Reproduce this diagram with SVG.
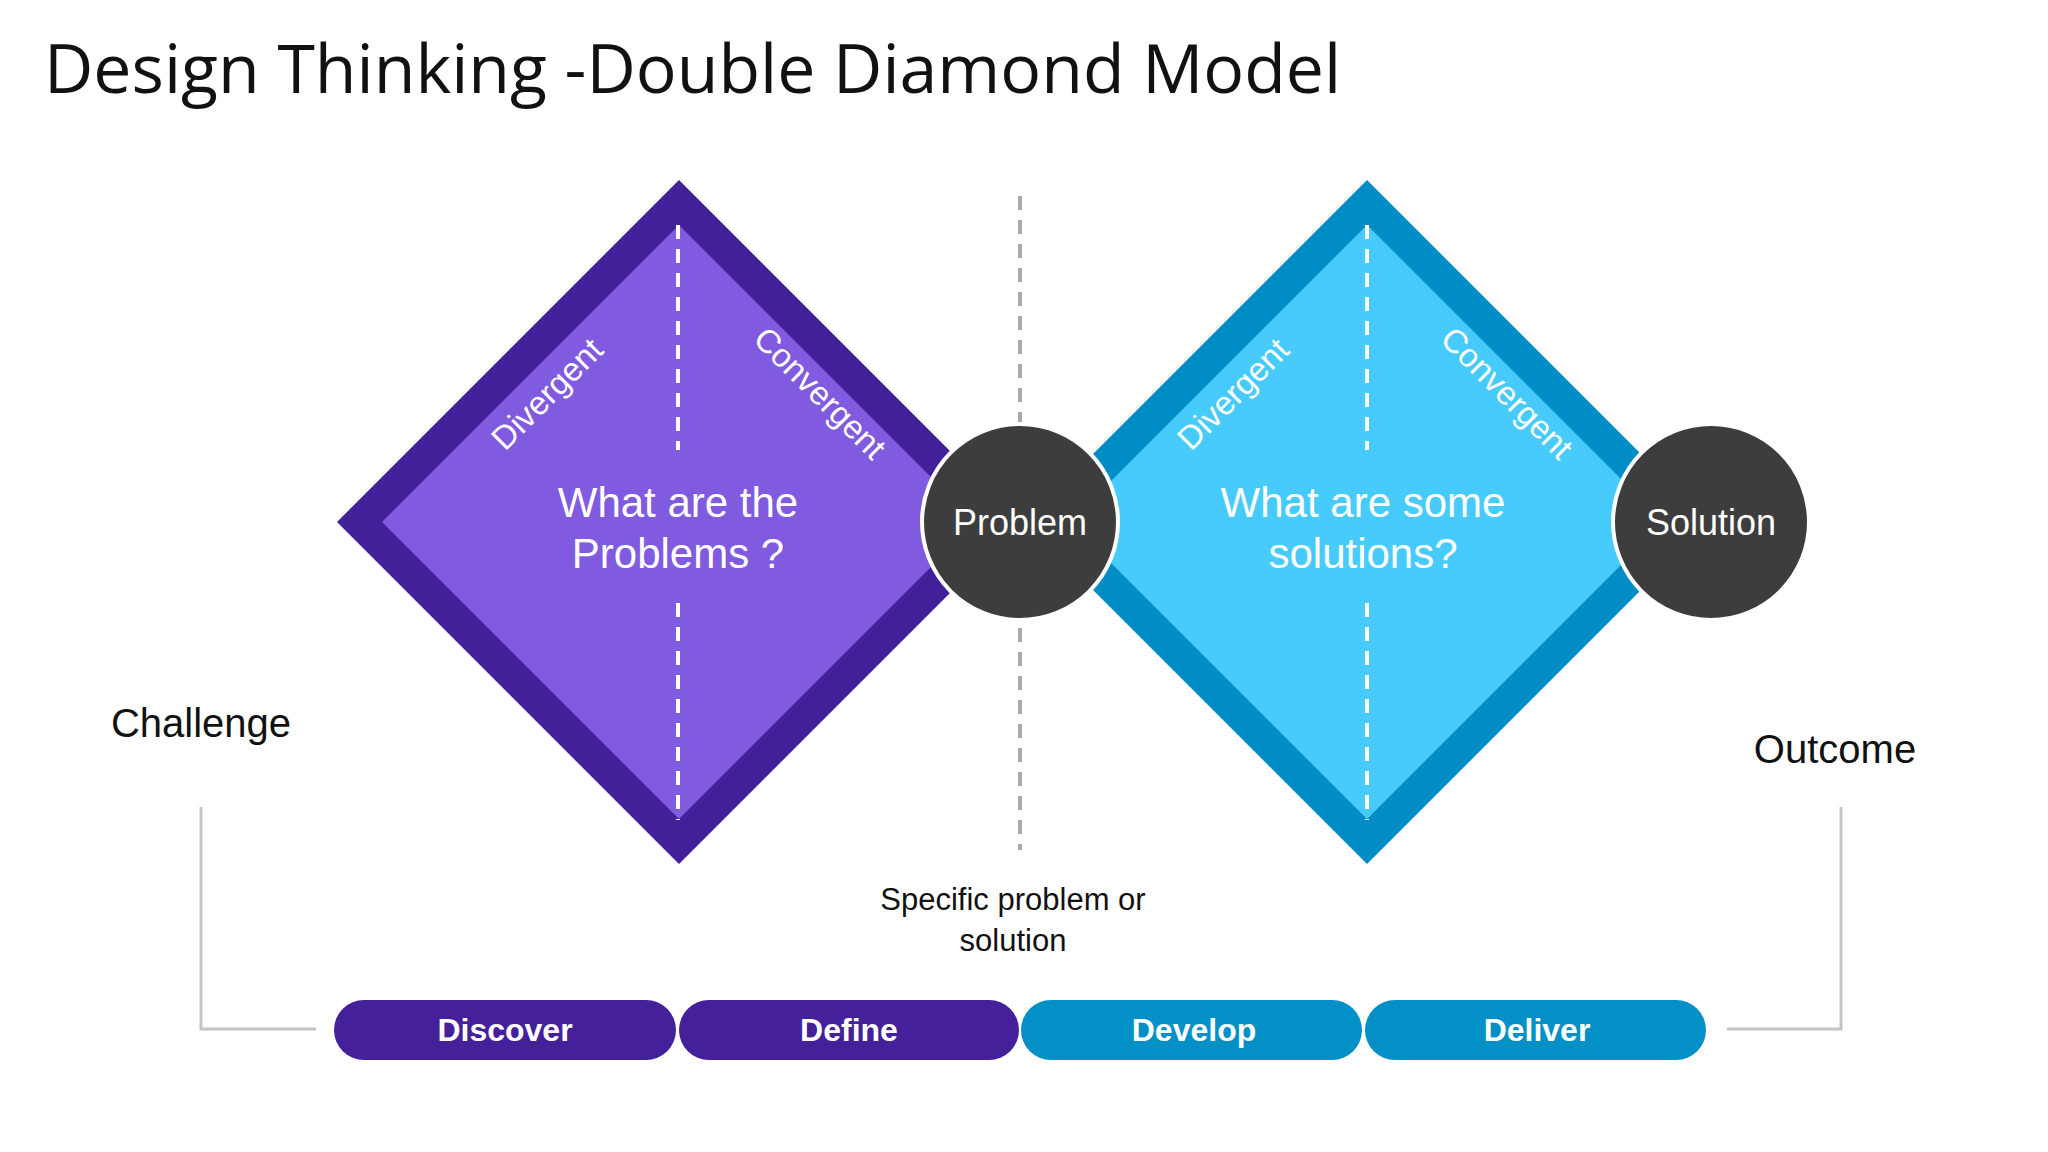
<svg xmlns="http://www.w3.org/2000/svg" width="2048" height="1152" viewBox="0 0 2048 1152">
<style>
.t{font-family:"Liberation Sans",Arial,sans-serif}
.w{fill:#fff}
.wd{stroke:#fff;stroke-width:4;stroke-dasharray:14 10;fill:none}
.rot{font-size:33px;fill:#fff}
.q{font-size:42px;fill:#fff;text-anchor:middle}
.pill{font-size:32px;font-weight:bold;fill:#fff;text-anchor:middle}
.circ{fill:#3d3d3d;stroke:#fff;stroke-width:4}
.br{stroke:#c4c4c4;stroke-width:3;fill:none}
</style>
<rect width="2048" height="1152" fill="#fff"/>
<text x="44" y="93" font-family="'Open Sans',sans-serif" font-size="68" fill="#111">Design Thinking -Double Diamond Model</text>
<line x1="1020" y1="196" x2="1020" y2="850" stroke="#aaa" stroke-width="4" stroke-dasharray="14 10"/>
<g id="diamond1">
<polygon points="679,180 1021,522 679,864 337,522" fill="#42209a"/>
<polygon points="679,225 976,522 679,819 382,522" fill="#805be0"/>
<line class="wd" x1="678" y1="225" x2="678" y2="450"/>
<line class="wd" x1="678" y1="603" x2="678" y2="820"/>
<text class="t rot" transform="translate(555,402) rotate(-45)" text-anchor="middle">Divergent</text>
<text class="t rot" transform="translate(812,401) rotate(45)" text-anchor="middle">Convergent</text>
<text class="t q" x="678" y="517">What are the</text>
<text class="t q" x="678" y="568">Problems ?</text>
</g>
<g id="diamond2">
<polygon points="1367,180 1709,522 1367,864 1025,522" fill="#008cc4"/>
<polygon points="1367,225 1664,522 1367,819 1070,522" fill="#46cbfc"/>
<line class="wd" x1="1367" y1="225" x2="1367" y2="450"/>
<line class="wd" x1="1367" y1="603" x2="1367" y2="820"/>
<text class="t rot" transform="translate(1241,402) rotate(-45)" text-anchor="middle">Divergent</text>
<text class="t rot" transform="translate(1499,401) rotate(45)" text-anchor="middle">Convergent</text>
<text class="t q" x="1363" y="517">What are some</text>
<text class="t q" x="1363" y="568">solutions?</text>
</g>
<g id="problem">
<circle class="circ" cx="1020" cy="522" r="98"/>
<text class="t" x="1020" y="535" font-size="36" fill="#fff" text-anchor="middle">Problem</text>
</g>
<g id="solution">
<circle class="circ" cx="1711" cy="522" r="98"/>
<text class="t" x="1711" y="535" font-size="36" fill="#fff" text-anchor="middle">Solution</text>
</g>
<g id="connectors">
<polyline class="br" points="201,807 201,1029 316,1029"/>
<polyline class="br" points="1841,807 1841,1029 1727,1029"/>
</g>
<g id="labels">
<text class="t" x="201" y="737" font-size="40" text-anchor="middle" fill="#111">Challenge</text>
<text class="t" x="1835" y="763" font-size="40" text-anchor="middle" fill="#111">Outcome</text>
<text class="t" x="1013" y="910" font-size="31" text-anchor="middle" fill="#111">Specific problem or</text>
<text class="t" x="1013" y="951" font-size="31" text-anchor="middle" fill="#111">solution</text>
</g>
<g id="discover"><rect x="334" y="1000" width="342" height="60" rx="30" fill="#44209a"/><text class="t pill" x="505" y="1041">Discover</text></g>
<g id="define"><rect x="679" y="1000" width="340" height="60" rx="30" fill="#44209a"/><text class="t pill" x="849" y="1041">Define</text></g>
<g id="develop"><rect x="1021" y="1000" width="341" height="60" rx="30" fill="#0290c6"/><text class="t pill" x="1194" y="1041">Develop</text></g>
<g id="deliver"><rect x="1365" y="1000" width="341" height="60" rx="30" fill="#0290c6"/><text class="t pill" x="1537" y="1041">Deliver</text></g>
</svg>
